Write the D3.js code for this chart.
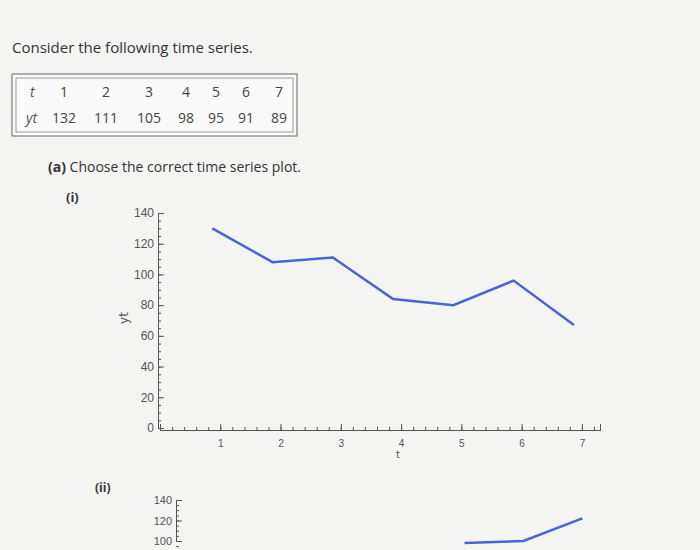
<!DOCTYPE html>
<html><head><meta charset="utf-8">
<script src="https://cdn.jsdelivr.net/npm/d3@7"></script>
<style>body{margin:0;background:#f2f2f0;font-family:"Open Sans",sans-serif}</style>
</head><body>
<svg id="c" width="700" height="550"></svg>
<script>
const tValues = [1,2,3,4,5,6,7];
const ytValues = [132,111,105,98,95,91,89];
const plotIValues = [130,108,111,84,80,96,67];
const plotIIValues = [98,100,122];
const plotIITimes = [5,6,7];
const yTicks = [0,20,40,60,80,100,120,140];
const yTicksII = [100,120,140];

const svg = d3.select("#c");
svg.append("rect").attr("width",700).attr("height",550).attr("fill","#f4f4f2");
svg.append("text").attr("x",12).attr("y",53).attr("font-size",15).attr("fill","#333").text("Consider the following time series.");

// table
const tbl = svg.append("g");
tbl.append("rect").attr("x",12).attr("y",74).attr("width",285).attr("height",62).attr("fill","#fafafa").attr("stroke","#666");
tbl.append("rect").attr("x",16).attr("y",78).attr("width",277).attr("height",54).attr("fill","none").attr("stroke","#999");
const colX = d3.scaleOrdinal().domain(d3.range(7)).range([64,106,149,186,216,246,279]);
tbl.append("text").attr("x",30).attr("y",97).attr("font-size",14).attr("fill","#555").attr("font-style","italic").text("t");
tbl.append("text").attr("x",26).attr("y",123).attr("font-size",14).attr("fill","#555").attr("font-style","italic").text("yt");
tValues.forEach((v,i)=>tbl.append("text").attr("x",colX(i)).attr("y",97).attr("text-anchor","middle").attr("font-size",14).attr("fill","#444").text(v));
ytValues.forEach((v,i)=>tbl.append("text").attr("x",colX(i)).attr("y",123).attr("text-anchor","middle").attr("font-size",14).attr("fill","#444").text(v));

svg.append("text").attr("x",48).attr("y",172).attr("font-size",14).attr("fill","#333").html('<tspan font-weight="bold">(a)</tspan> Choose the correct time series plot.');
svg.append("text").attr("x",66).attr("y",202).attr("font-size",13).attr("font-weight","bold").attr("fill","#333").text("(i)");
svg.append("text").attr("x",95).attr("y",492).attr("font-size",12).attr("font-weight","bold").attr("fill","#333").text("(ii)");

// plot (i)
const x = d3.scaleLinear().domain([0,7.3]).range([160,600]);
const y = d3.scaleLinear().domain([0,140]).range([428,213]);
const g = svg.append("g").attr("font-family","DejaVu Sans");
const yAx = g.append("g").attr("transform","translate(158,0)")
  .call(d3.axisRight(y).tickValues(yTicks).tickSize(6));
yAx.selectAll("text").attr("x",-4).attr("text-anchor","end").attr("font-size",12).attr("fill","#555");
g.append("g").attr("transform","translate(158,0)").call(d3.axisRight(y).tickValues(d3.range(0,141,5)).tickSize(3).tickFormat(""));
const xAx = g.append("g").attr("transform","translate(0,430)")
  .call(d3.axisTop(x).tickValues(tValues).tickSize(6));
xAx.selectAll("text").attr("y",10).attr("dy","0.7em").attr("font-size",10).attr("fill","#555");
g.append("g").attr("transform","translate(0,430)").call(d3.axisTop(x).tickValues(d3.range(0,7.3,0.2)).tickSize(3).tickFormat(""));
g.selectAll(".domain").attr("stroke","#555");
g.selectAll(".tick line").attr("stroke","#555");
g.append("text").attr("transform","translate(128,318) rotate(-90)").attr("text-anchor","middle").attr("font-size",12).attr("fill","#555").text("yt");
g.append("text").attr("x",398).attr("y",458).attr("text-anchor","middle").attr("font-size",10).attr("fill","#555").text("t");
const line = d3.line().x((d,i)=>x(tValues[i])-8).y(d=>y(d));
g.append("path").datum(plotIValues).attr("d",line).attr("fill","none").attr("stroke","#4a63d6").attr("stroke-width",2.5);

// plot (ii) (partially visible)
const y2 = d3.scaleLinear().domain([100,140]).range([541,500]);
const g2 = svg.append("g").attr("font-family","DejaVu Sans");
const a2 = g2.append("g").attr("transform","translate(176,0)").call(d3.axisRight(y2).tickValues(yTicksII).tickSize(6));
a2.selectAll("text").attr("x",-4).attr("text-anchor","end").attr("font-size",11).attr("fill","#555");
g2.append("g").attr("transform","translate(176,0)").call(d3.axisRight(y2).tickValues(d3.range(95,141,5)).tickSize(3).tickFormat(""));
g2.selectAll(".domain").attr("stroke","#555");
g2.selectAll(".tick line").attr("stroke","#555");
const x2 = d3.scaleLinear().domain([0,7.3]).range([180,610]);
g2.append("path").datum(plotIIValues).attr("d",d3.line().x((d,i)=>x2(plotIITimes[i])-10).y(d=>y2(d)))
  .attr("fill","none").attr("stroke","#4a63d6").attr("stroke-width",2.5);
</script>
</body></html>
